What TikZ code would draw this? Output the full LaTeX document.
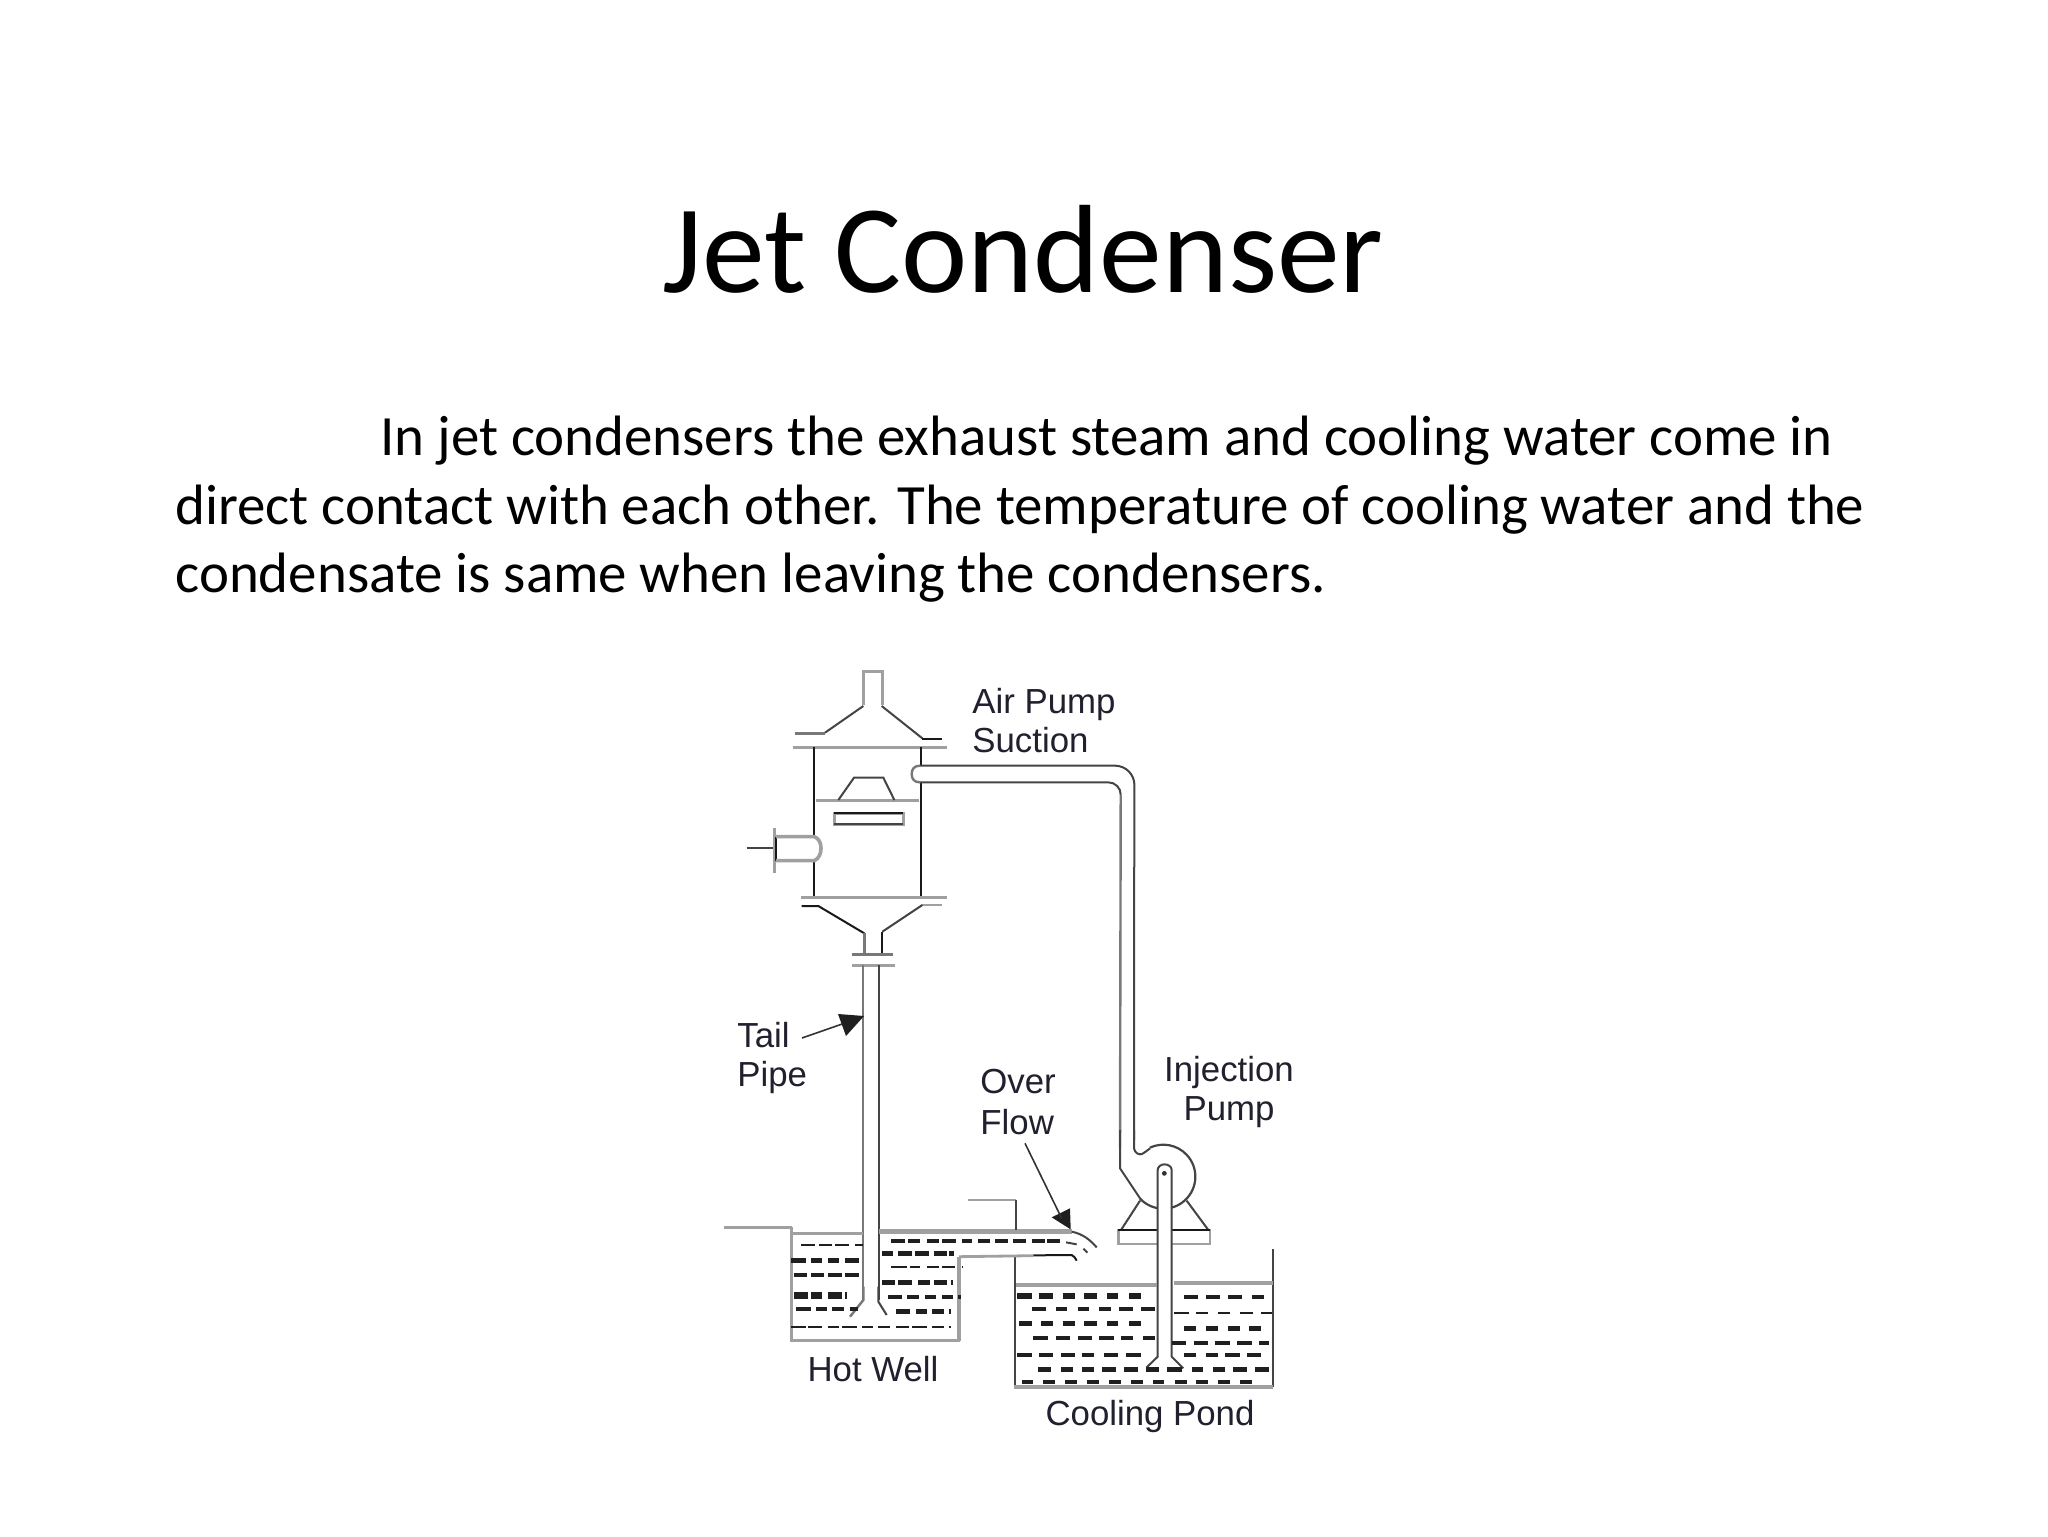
\documentclass[tikz,border=0pt]{standalone}
\usepackage{fontspec}
\setmainfont{Carlito}
\newfontfamily\labelfont{Liberation Sans}
\usetikzlibrary{calc}
\definecolor{gl}{HTML}{A0A0A0}
\definecolor{dl}{HTML}{444444}
\definecolor{lbl}{HTML}{20202E}
\tikzset{
  grayline/.style={draw=gl,line width=1.8pt},
  grayhair/.style={draw=gl!75!black,line width=1.2pt},
  darkline/.style={draw=black!90,line width=1pt},
  midline/.style={draw=dl,line width=1pt},
  lab/.style={font=\labelfont\fontsize{17.4}{21}\selectfont,text=lbl,align=left,inner sep=0pt},
  leader/.style={draw=black!80,line width=0.8pt},
  tip/.style={fill=black!88,draw=none},
  zoomA/.style={shift={(720,650)},x=0.16667pt,y=-0.16667pt},
  zoomB/.style={shift={(700,1130)},x=0.16667pt,y=-0.16667pt},
  zoomC/.style={shift={(980,1130)},x=0.16667pt,y=-0.16667pt}
}
\newcommand{\dashrow}[3]{\foreach \a/\b in {#3} {\fill[black!88] (\a,#1-#2/2) rectangle (\b,#1+#2/2);}}
\begin{document}
\begin{tikzpicture}[x=0.5pt,y=-0.5pt]
\useasboundingbox (0,0) rectangle (2048,1536);
\fill[white] (0,0) rectangle (2048,1536);
\node[font=\fontsize{62.8}{70}\selectfont,inner sep=0pt] (title) at (1023,249) {Jet Condenser};
\node[font=\fontsize{28.46}{34}\selectfont,anchor=base west,inner sep=0pt] (l1) at (380,455) {In jet condensers the exhaust steam and cooling water come in};
\node[font=\fontsize{28.46}{34}\selectfont,anchor=base west,inner sep=0pt] (l2) at (175,524) {direct contact with each other. The temperature of cooling water and the};
\node[font=\fontsize{28.46}{34}\selectfont,anchor=base west,inner sep=0pt] (l3) at (175,592) {condensate is same when leaving the condensers.};

\begin{scope}[zoomA]
  \draw[grayline] (430,165)--(430,65)--(487,65)--(487,165);
  \draw[midline] (430,168)--(315,248);
  \draw[grayhair] (315,250)--(225,250);
  \draw[midline] (485,168)--(607,265);
  \draw[darkline] (607,267)--(665,267);
  \draw[grayline] (220,292)--(680,292);
  \draw[darkline] (283,292)--(283,555) (283,632)--(283,742);
  \draw[darkline] (603,292)--(603,345) (603,398)--(603,742);
  \draw[grayline] (287,452)--(598,452);
  \draw[midline] (355,450)--(402,383)--(490,383)--(523,450);
  \draw[grayline,line width=1.2pt] (343,490) rectangle (550,523);
  \draw[darkline] (343,490)--(550,490);
  \draw[midline] (343,523)--(550,523);
  \draw[midline] (80,595)--(165,595);
  \draw[grayline] (163,535)--(163,668);
  \draw[darkline] (168,560)--(168,632);
  \draw[grayline] (168,560)--(283,560) .. controls (296,565) and (303,578) .. (303,595) .. controls (303,612) and (296,626) .. (283,632)--(168,632);
  \draw[grayline] (243,742)--(680,742);
  \draw[darkline] (245,768)--(295,768)--(433,850);
  \draw[grayhair] (433,850)--(433,915);
  \draw[grayline,line width=1.2pt] (665,765)--(607,765);
  \draw[midline] (607,765)--(487,845);
  \draw[darkline] (487,845)--(487,915);
  \draw[grayhair] (397,914)--(520,914);
  \draw[grayline] (397,946)--(525,946);
  \draw[midline] (600,347)--(1185,347) arc[start angle=90,end angle=0,radius=9.7pt];
  \draw[midline] (600,397)--(1165,397) arc[start angle=90,end angle=0,radius=6.2pt];
  \draw[grayhair] (600,347) .. controls (582,347) and (575,358) .. (575,372) .. controls (575,386) and (582,397) .. (600,397);
\end{scope}

% pipes joining the upper and lower crops
\coordinate (tailL) at (863,965);
\coordinate (tailR) at (879,965);
\coordinate (tailLb) at (863,1300);
\coordinate (tailRb) at (879,1300);
\draw[grayhair] (tailL)--(tailLb);
\draw[midline] (tailR)--(tailRb);
\coordinate (suctL) at (1120.7,795);
\coordinate (suctR) at (1134.3,785);
\coordinate (suctLb) at (1120,1148);
\coordinate (suctRb) at (1134,1140);
\draw[grayhair] (suctL)--(suctLb);
\draw[midline] (suctR)--(suctRb);

\begin{scope}[zoomC]
  % pump
  \draw[midline] (420,0)--(420,105)--(420,115)--(480,205);
  \draw[midline] (462,0)--(462,55) .. controls (464,68) and (476,76) .. (486,72) .. controls (495,68) and (502,60) .. (510,55);
  \draw[midline,line width=1.1pt] (550,140) ++(223:16pt) arc[start angle=223,end angle=475,radius=16pt];
  \draw[midline] (480,212)--(423,300) (620,212)--(685,300);
  \draw[grayline,line width=1.3pt] (415,300) rectangle (690,342);
  \draw[darkline] (415,300)--(690,300);
  % intake pipe
  \fill[white] (533,120) rectangle (575,680);
  \draw[midline] (500,712)--(533,680)--(533,120) .. controls (533,110) and (543,103) .. (553,103) .. controls (565,103) and (575,110) .. (575,120)--(575,680)--(610,715);
  \fill[black!80] (553,130) circle[radius=1.2pt];
  % pond
  \draw[midline] (105,380)--(105,770);
  \draw[midline] (878,358)--(878,770);
  \draw[grayline,line width=2.1pt] (103,770)--(880,770);
  \draw[grayline,line width=2.1pt] (107,465)--(530,465) (582,458)--(880,458);
  \dashrow{497}{18}{110/155,177/218,250/285,313/350,380/415,447/482}
  \dashrow{537}{14}{155/198,228/262,293/328,358/393,417/458,482/525}
  \dashrow{581}{14}{118/155,184/218,250/285,313/350,380/415,447/482}
  \dashrow{624}{14}{160/205,228/270,293/335,358/402,423/458,490/525}
  \dashrow{675}{14}{110/155,177/218,242/285,307/343,373/415,438/482}
  \dashrow{718}{13}{175/212,242/278,307/343,365/407,432/473,497/538,562/605,635/670,700/735,758/800,825/866}
  \dashrow{755}{13}{125/160,190/226,256/292,322/357,387/423,452/488,518/553,584/620,649/685,715/750,780/815}
  \dashrow{501}{14}{612/655,678/720,744/785,815/852}
  \dashrow{548}{6}{583/627,648/685,714/750,780/820,843/875}
  \dashrow{596}{14}{612/648,678/713,744/780,808/844}
  \dashrow{639}{14}{577/618,642/684,706/750,772/815,838/866}
  \dashrow{675}{14}{612/648,678/713,736/780,800/844}
\end{scope}

\begin{scope}[zoomB]
  \draw[grayline,line width=1.2pt] (72,292)--(275,292);
  \draw[grayline] (275,292)--(275,635);
  \draw[grayline,line width=1.4pt] (278,311)--(490,311);
  \draw[grayline,line width=2.2pt] (538,305)--(1115,305);
  \draw[grayline,line width=1.4pt] (272,632)--(780,632);
  \draw[grayline] (777,380)--(777,632);
  \draw[grayline,line width=1.4pt] (777,380)--(1000,377);
  \draw[darkline] (1000,376)--(1115,375) .. controls (1122,378) and (1127,385) .. (1130,392);
  \draw[midline] (1115,305) .. controls (1150,312) and (1170,330) .. (1190,352);
  \draw[grayline,line width=1.2pt] (803,210)--(947,210);
  \draw[midline] (947,210)--(947,300);
  \draw[grayhair] (490,470)--(490,510)--(450,560);
  \draw[midline] (535,470)--(535,515)--(560,555);
  \dashrow{334}{12}{572/615,625/660,682/717,725/767,785/817,835/870,885/925,938/978,995/1035,1040/1080}
  \draw[midline] (1098,337)--(1130,343);
  \draw[midline] (1150,356)--(1162,368);
  \dashrow{345}{5}{303/345,357/395,405/448,465/490}
  \dashrow{371}{14}{545/580,595/637,645/687,703/740,748/762}
  \dashrow{392}{14}{273/317,333/367,383/418,435/478}
  \dashrow{411}{5}{572/620,630/660,682/718,725/765,785/790}
  \dashrow{435}{14}{282/322,333/373,383/425,435/478}
  \dashrow{458}{14}{545/585,595/637,655/690,703/740,753/760}
  \dashrow{497}{20}{282/325,333/367,383/427,435/441}
  \dashrow{501}{14}{565/607,622/658,675/708,725/760,775/782}
  \dashrow{537}{14}{288/332,347/382,397/433,450/475}
  \dashrow{545}{14}{588/630,647/680,697/732,748/752}
  \dashrow{592}{6}{273/317,325/367,383/417,425/470,485/520,535/570,587/627,637/680,695/733,748/752}
  \coordinate (flowtail) at (975,40);
  \coordinate (flowhead) at (1085,265);
  \fill[tip] (1112,298)--(1055,262)--(1110,235)--cycle;
\end{scope}
\draw[leader] (flowtail)--(flowhead);

\coordinate (tailtail) at (802,1038);
\coordinate (tailhead) at (845,1023);
\draw[leader] (tailtail)--(tailhead);
\fill[tip] (864,1016)--(838,1014)--(846,1036)--cycle;

\node[lab,anchor=base west] (airpump) at (972,713) {Air Pump};
\node[lab,anchor=base west] (suction) at (972,752) {Suction};
\node[lab,anchor=base west] (tail) at (737,1047) {Tail};
\node[lab,anchor=base west] (pipe) at (737,1086) {Pipe};
\node[lab,anchor=base west] (over) at (980,1093) {Over};
\node[lab,anchor=base west] (flow) at (980,1134) {Flow};
\node[lab,anchor=base] (inj) at (1229,1081) {Injection};
\node[lab,anchor=base] (pump) at (1229,1120) {Pump};
\node[lab,anchor=base] (hot) at (873,1381) {Hot Well};
\node[lab,anchor=base] (pond) at (1150,1425) {Cooling Pond};
\end{tikzpicture}
\end{document}
